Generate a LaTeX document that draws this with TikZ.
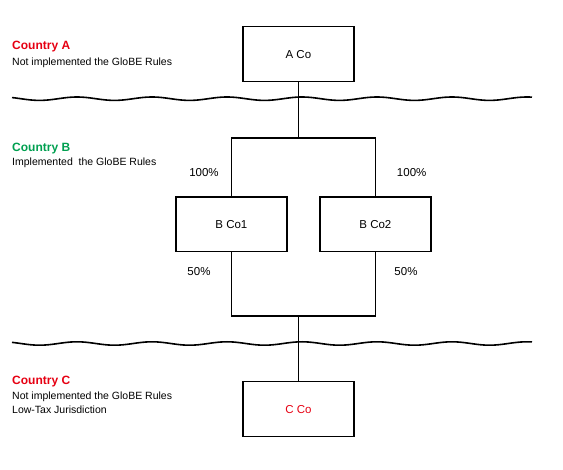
\documentclass[tikz,border=0pt]{standalone}
\usepackage{fontspec}
\setmainfont{Liberation Sans}
\usetikzlibrary{positioning}
\definecolor{cred}{RGB}{230,0,18}
\definecolor{cgreen}{RGB}{0,160,80}
\tikzset{
  cobox/.style={rectangle, draw, line width=1.6pt, minimum width=111.3pt, minimum height=55pt, inner sep=0pt, font=\fontsize{11.5}{13}\selectfont},
  ctry/.style={anchor=west, inner sep=0pt, font=\fontsize{12}{14}\selectfont\bfseries},
  note/.style={anchor=west, inner sep=0pt, font=\fontsize{10.5}{12.5}\selectfont},
  pct/.style={inner sep=0pt, font=\fontsize{11.5}{13}\selectfont},
  link/.style={line width=1.6pt},
  frontier/.style={line width=1.6pt, domain=12:532, samples=180, smooth},
}

\begin{document}
\begin{tikzpicture}[x=1pt, y=-1pt]
  \useasboundingbox (0,0) rectangle (563,470);

  %% --- countries (left) ---
  \node[ctry, text=cred] (ctryA) at (12,46.7) {Country A};
  \node[note] (noteA) at (12,62.3) {Not implemented the GloBE Rules};

  \node[ctry, text=cgreen] (ctryB) at (12,148.3) {Country B};
  \node[note] (noteB) at (12,162.7) {Implemented\ \ the GloBE Rules};

  \node[ctry, text=cred] (ctryC) at (12,381.7) {Country C};
  \node[note] (noteC) at (12,396.7) {Not implemented the GloBE Rules};
  \node[note] (taxC) at (12,409.5) {Low-Tax Jurisdiction};

  % borders between the countries (period 75)
  \foreach \yy in {98.7,343.5}
    \draw[frontier] plot (\x, {\yy - 1.7*sin(4.8*(\x-58.25))});

  %% --- companies ---
  \node[cobox] (aco) at (298.4,54.2) {A Co};
  \node[cobox, minimum height=54.4pt] (bco1) at (231.4,224.5) {B Co1};
  \node[cobox, minimum height=54.4pt] (bco2) at (375.4,224.5) {B Co2};
  \node[cobox, text=cred] (cco) at (298.4,409.2) {C Co};

  % ownership lines
  \coordinate (topbar) at (298.4,138.3);
  \coordinate (botbar) at (298.4,316);
  \draw[link] (aco.south) -- (topbar);
  \draw[link] (bco1.north) |- (topbar) -| (bco2.north);
  \draw[link] (bco1.south) |- (botbar) -| (bco2.south);
  \draw[link] (botbar) -- (cco.north);

  % shares
  \foreach \nm/\px/\py/\txt in {pctA1/204/173/100\%, pctA2/411.7/172.5/100\%,
                                pctB1/199/271.7/50\%, pctB2/406/272/50\%}
    \node[pct] (\nm) at (\px,\py) {\txt};
\end{tikzpicture}
\end{document}
